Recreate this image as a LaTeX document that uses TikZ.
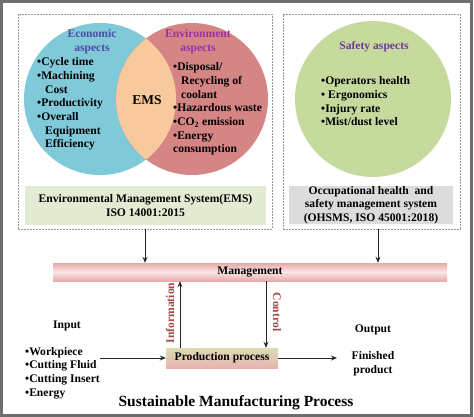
\documentclass[tikz,border=0pt]{standalone}
\usepackage{fontspec}
\setmainfont{Liberation Serif}
\usetikzlibrary{arrows.meta}
\definecolor{frame}{HTML}{6E6E6E}
\definecolor{blueC}{HTML}{80C9D9}
\definecolor{redC}{HTML}{D68585}
\definecolor{lensC}{HTML}{F8C99C}
\definecolor{greenC}{HTML}{C7DA9E}
\definecolor{emsbox}{HTML}{E4EBD3}
\definecolor{ohsbox}{HTML}{DCDCDC}
\definecolor{ecoT}{HTML}{4B4BA8}
\definecolor{envT}{HTML}{9A2FA6}
\definecolor{safT}{HTML}{6E3A96}
\definecolor{infoT}{HTML}{A34848}
\definecolor{mgEdge}{HTML}{E6A9A9}
\definecolor{mgMid}{HTML}{FBE6E4}
\definecolor{ppTop}{HTML}{D9DDB2}
\definecolor{ppBot}{HTML}{EAB2B0}
\tikzset{
  txt/.style={font=\bfseries\fontsize{11.6}{13.7}\selectfont, inner sep=0pt, align=left},
  ctxt/.style={font=\bfseries\fontsize{11.6}{13.7}\selectfont, inner sep=0pt, align=center},
  dbox/.style={draw=gray!80, line width=0.6pt, dash pattern=on 2pt off 1pt},
  arr/.style={-{Stealth[length=6pt,width=5pt]}, line width=1pt, black!85},
}
\begin{document}
\begin{tikzpicture}[x=1pt,y=-1pt]
\useasboundingbox (0,0) rectangle (474,417);
\fill[white] (0,0) rectangle (474,417);
\draw[frame, line width=3pt] (1.5,1.5) rectangle (471.5,415.5);
% dashed boxes
\node[dbox, minimum width=254pt, minimum height=215pt, inner sep=0pt] (lbox) at (145,121.5) {};
\node[dbox, minimum width=177pt, minimum height=215pt, inner sep=0pt] (rbox) at (371.5,121.5) {};
% circles
\fill[blueC] (100,99) circle (76);
\fill[redC] (192,99) circle (76);
\begin{scope}
\clip (100,99) circle (76);
\fill[lensC] (192,99) circle (76);
\end{scope}
\fill[greenC] (373,99) circle (78);
\node[ctxt] (ems) at (147,100) {\fontsize{13.5}{15}\selectfont EMS};
% economic
\node[ctxt, text=ecoT] (eco) at (92,42) {Economic\\aspects};
\node[txt, anchor=north west] (ecol) at (37,57.5) {\textbullet Cycle time\\\textbullet Machining\\\hspace{8pt}Cost\\\textbullet Productivity\\\textbullet Overall\\\hspace{8pt}Equipment\\\hspace{8pt}Efficiency};
% environment
\node[ctxt, text=envT] (env) at (198,42) {Environment\\aspects};
\node[txt, anchor=north west] (envl) at (173,62.5) {\textbullet Disposal/\\\hspace{8pt}Recycling of\\\hspace{8pt}coolant\\\textbullet Hazardous waste\\\textbullet CO\textsubscript{2} emission\\\textbullet Energy\\consumption};
% safety
\node[ctxt, text=safT] (saf) at (374,47) {Safety aspects};
\node[txt, anchor=north west] (safl) at (321,76.5) {\textbullet Operators health\\\textbullet\ Ergonomics\\\textbullet Injury rate\\\textbullet Mist/dust level};
% bottom boxes
\node[ctxt, fill=emsbox, minimum width=241pt, minimum height=39pt] (emsb) at (145.5,205.5) {Environmental Management System(EMS)\\ISO 14001:2015};
\node[ctxt, fill=ohsbox, minimum width=164pt, minimum height=38pt] (ohsb) at (371,205) {Occupational health\ \ and\\safety management system\\(OHSMS, ISO 45001:2018)};
% management bar
\shade[top color=mgEdge, bottom color=mgEdge, middle color=mgMid] (53,263) rectangle (447,281);
\node[ctxt, minimum width=394pt, minimum height=18pt] (mg) at (250,272) {Management};
% production process
\shade[top color=ppTop, bottom color=ppBot] (166,348) rectangle (278,368);
\node[ctxt, minimum width=112pt, minimum height=20pt] (pp) at (222,358) {Production process};
% arrows from boxes
\draw[arr] (lbox.south -| 145,0) -- (mg.north -| 145,0);
\draw[arr] (rbox.south -| 378,0) -- (mg.north -| 378,0);
\draw[arr] (pp.north -| 180,0) -- (mg.south -| 180,0);
\draw[arr] (mg.south -| 266,0) -- (pp.north -| 266,0);
\node[ctxt, text=infoT, rotate=90] (info) at (170,313) {Information};
\node[ctxt, text=infoT, rotate=-90] (ctrl) at (277,312) {Control};
% input / output
\node[ctxt] (in) at (67,326) {Input};
\node[txt, anchor=north west] (inl) at (25,347) {\textbullet Workpiece\\\textbullet Cutting Fluid\\\textbullet Cutting Insert\\\textbullet Energy};
\coordinate (inEnd) at (100,358);
\draw[arr] (inEnd) -- (pp.west);
\node[ctxt] (out) at (373,330) {Output};
\node[ctxt] (fin) at (373,364) {Finished\\product};
\draw[arr] (pp.east) -- (337,358) coordinate (outEnd);
\node[ctxt, font=\bfseries\fontsize{15.5}{18}\selectfont] (title) at (236,403) {Sustainable Manufacturing Process};
\end{tikzpicture}
\end{document}
